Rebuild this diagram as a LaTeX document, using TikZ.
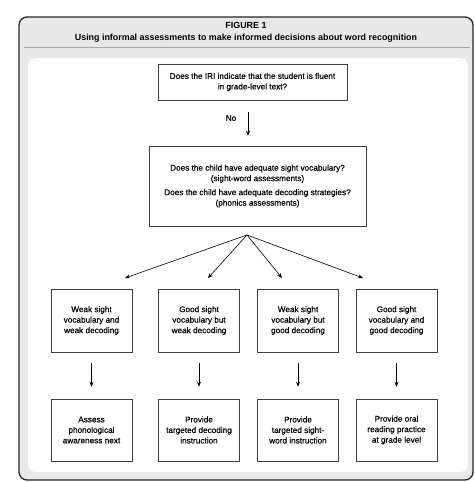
\documentclass[tikz,border=0pt]{standalone}
\usepackage{fontspec}
\setmainfont{Liberation Sans}
\newfontfamily\medfont[FakeBold=0.5]{Liberation Sans}
\usetikzlibrary{arrows.meta,calc}
\begin{document}
\begin{tikzpicture}[x=1pt,y=-1pt,
  box/.style={draw=black!75,line width=0.6pt,fill=white,align=center,inner sep=2pt,
    font=\medfont\fontsize{8.2}{10.5}\selectfont},
  arr/.style={draw=black,line width=0.6pt,-{Stealth[length=5pt,width=4pt]}},
  lbl/.style={font=\medfont\fontsize{8.2}{10.5}\selectfont,inner sep=0pt}]
\useasboundingbox (0,0) rectangle (474,482);
% frame
\draw[fill=black!9,draw=black!85,line width=1.3pt,rounded corners=8pt] (19,17) rectangle (473,480);
\draw[black!35,line width=0.5pt] (24,47) -- (470,47);
\node[font=\bfseries\fontsize{8.9}{10}\selectfont,inner sep=0pt] (fig) at (246,25) {FIGURE 1};
\node[font=\bfseries\fontsize{8.9}{10}\selectfont,inner sep=0pt] (title) at (246,38) {Using informal assessments to make informed decisions about word recognition};
\fill[white,rounded corners=8pt] (28,58) rectangle (468,472);
% nodes
\node[box,minimum width=189pt,minimum height=36pt] (q1) at (252.5,82) {Does the IRI indicate that the student is fluent\\in grade-level text?};
\node[box,minimum width=217pt,minimum height=80pt] (q2) at (257.5,186) {Does the child have adequate sight vocabulary?\\(sight-word assessments)\\[3.5pt]Does the child have adequate decoding strategies?\\(phonics assessments)};
\node[lbl] (no) at (231,118) {No};
\foreach \n/\x/\t/\u in {1/91.5/{Weak sight\\vocabulary and\\weak decoding}/{Assess\\phonological\\awareness next},
  2/199/{Good sight\\vocabulary but\\weak decoding}/{Provide\\targeted decoding\\instruction},
  3/298/{Weak sight\\vocabulary but\\good decoding}/{Provide\\targeted sight-\\word instruction},
  4/396.5/{Good sight\\vocabulary and\\good decoding}/{Provide oral\\reading practice\\at grade level}}{
  \node[box,minimum width=81pt,minimum height=63pt] (a\n) at (\x,320.5) {\t};
  \node[box,minimum width=81pt,minimum height=62pt] (b\n) at (\x,430) {\u};
  \draw[arr,shorten <=11pt,shorten >=12pt] (a\n) -- (b\n);
}
% connectors
\draw[arr,shorten <=12pt,shorten >=10pt] ([xshift=-4.5pt]q1.south) -- ([xshift=-4.5pt]q1.south |- q2.north);
\coordinate (fan) at (247,235);
\coordinate (e1) at (125,278);
\coordinate (e2) at (208,278);
\coordinate (e3) at (282,278);
\coordinate (e4) at (363,278);
\foreach \i in {1,...,4} \draw[arr] (fan) -- (e\i);
\end{tikzpicture}
\end{document}
